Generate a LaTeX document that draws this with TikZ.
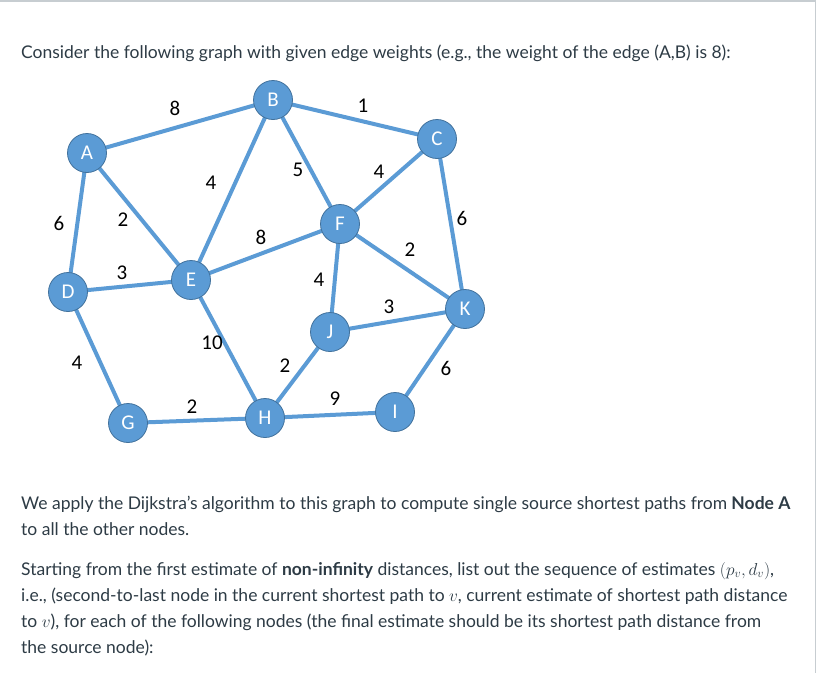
\documentclass[tikz,border=0pt]{standalone}
\usepackage{fontspec}
\setmainfont{Lato}
\newfontfamily\lblfont{Carlito}
\usetikzlibrary{backgrounds}
\definecolor{nodeblue}{HTML}{5B9BD5}
\definecolor{nodeedge}{HTML}{41719C}
\definecolor{txt}{HTML}{2D3B45}
\definecolor{frame}{HTML}{C7CDD1}
\begin{document}
\begin{tikzpicture}[x=1pt,y=-1pt,
  vtx/.style={circle,fill=nodeblue,draw=nodeedge,line width=0.8pt,minimum size=39pt,inner sep=0pt,text=white,font=\lblfont\fontsize{21}{21}\selectfont},
  edg/.style={draw=nodeblue,line width=4pt},
  wt/.style={font=\lblfont\fontsize{21}{21}\selectfont,text=black},
  para/.style={anchor=base west,inner sep=0pt,text=txt,font=\fontsize{17.5}{19}\selectfont}]
\useasboundingbox (0,0) rectangle (819,673);
\draw[frame,line width=1.5pt] (0,0.75) -- (815.25,0.75) -- (815.25,673);
\node[para] (t0) at (21,58) {Consider the following graph with given edge weights (e.g., the weight of the edge (A,B) is 8):};
\node[vtx] (A) at (87,153) {A};
\node[vtx] (B) at (273,100) {B};
\node[vtx] (C) at (437,139) {C};
\node[vtx] (D) at (68,292) {D};
\node[vtx] (E) at (191,280) {E};
\node[vtx] (F) at (340,224) {F};
\node[vtx] (G) at (128,423) {G};
\node[vtx] (H) at (265,418) {H};
\node[vtx] (I) at (395,412) {I};
\node[vtx] (J) at (330,332) {J};
\node[vtx] (K) at (465,309) {K};
\begin{scope}[on background layer]
\foreach \a/\b in {A/B,B/C,B/E,B/F,C/F,A/D,A/E,E/F,C/K,F/K,D/E,F/J,J/K,E/H,D/G,H/J,K/I,G/H,H/I}
  \draw[edg] (\a.center) -- (\b.center);
\end{scope}
\node[wt] (w1) at (175,108) {8};
\node[wt] (w2) at (363,106) {1};
\node[wt] (w3) at (211,183) {4};
\node[wt] (w4) at (298,170) {5};
\node[wt] (w5) at (379,172) {4};
\node[wt] (w6) at (59,223) {6};
\node[wt] (w7) at (123,220) {2};
\node[wt] (w8) at (261,237) {8};
\node[wt] (w9) at (462,218) {6};
\node[wt] (w10) at (410,250) {2};
\node[wt] (w11) at (122,273) {3};
\node[wt] (w12) at (319,280) {4};
\node[wt] (w13) at (389,307) {3};
\node[wt] (w14) at (212,343) {10};
\node[wt] (w15) at (77,363) {4};
\node[wt] (w16) at (285,366) {2};
\node[wt] (w17) at (446,368) {6};
\node[wt] (w18) at (192,407) {2};
\node[wt] (w19) at (335,399) {9};
\node[para] (t1) at (21,509) {We apply the Dijkstra's algorithm to this graph to compute single source shortest paths from \textbf{Node A}};
\node[para] (t2) at (21,535) {to all the other nodes.};
\node[para] (t3) at (21,575) {Starting from the first estimate of \textbf{non-infinity} distances, list out the sequence of estimates $(p_v,d_v)$,};
\node[para] (t4) at (21,601) {i.e., (second-to-last node in the current shortest path to $v$, current estimate of shortest path distance};
\node[para] (t5) at (21,627) {to $v$), for each of the following nodes (the final estimate should be its shortest path distance from};
\node[para] (t6) at (21,653) {the source node):};
\end{tikzpicture}
\end{document}
